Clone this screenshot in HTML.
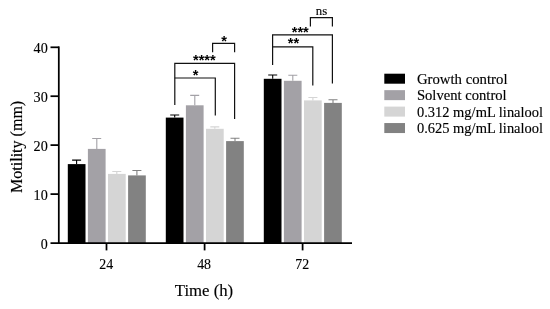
<!DOCTYPE html>
<html lang="en"><head><meta charset="utf-8"><title>Motility</title>
<style>
html,body{margin:0;padding:0;background:#fff;}
body{width:550px;height:309px;overflow:hidden;}
svg{display:block;}
text{font-family:"Liberation Serif","DejaVu Serif",serif;fill:#000;stroke:#000;stroke-width:0.14px;}
.st{font-family:"Liberation Sans","DejaVu Sans",sans-serif;font-weight:bold;stroke:none;}
</style></head><body>
<svg width="550" height="309" viewBox="0 0 550 309">
<rect width="550" height="309" fill="#fff"/>
<rect x="67.8" y="164.1" width="17.7" height="78.9" fill="#000000"/>
<path d="M76.6 164.1V160.1M72.1 160.1H81.1" stroke="#000000" stroke-width="1.1" fill="none"/>
<rect x="87.9" y="148.9" width="17.7" height="94.1" fill="#a3a1a6"/>
<path d="M96.8 148.9V138.5M92.2 138.5H101.2" stroke="#a3a1a6" stroke-width="1.1" fill="none"/>
<rect x="108.0" y="173.9" width="17.7" height="69.1" fill="#d5d5d5"/>
<path d="M116.8 173.9V171.5M112.3 171.5H121.3" stroke="#d5d5d5" stroke-width="1.1" fill="none"/>
<rect x="128.1" y="175.4" width="17.7" height="67.6" fill="#828282"/>
<path d="M136.9 175.4V170.5M132.4 170.5H141.4" stroke="#828282" stroke-width="1.1" fill="none"/>
<rect x="165.8" y="117.6" width="17.7" height="125.4" fill="#000000"/>
<path d="M174.7 117.6V115.0M170.2 115.0H179.2" stroke="#000000" stroke-width="1.1" fill="none"/>
<rect x="185.9" y="105.3" width="17.7" height="137.7" fill="#a3a1a6"/>
<path d="M194.8 105.3V95.4M190.2 95.4H199.2" stroke="#a3a1a6" stroke-width="1.1" fill="none"/>
<rect x="206.0" y="128.8" width="17.7" height="114.2" fill="#d5d5d5"/>
<path d="M214.8 128.8V126.9M210.3 126.9H219.3" stroke="#d5d5d5" stroke-width="1.1" fill="none"/>
<rect x="226.1" y="141.1" width="17.7" height="101.9" fill="#828282"/>
<path d="M235.0 141.1V138.3M230.5 138.3H239.5" stroke="#828282" stroke-width="1.1" fill="none"/>
<rect x="263.8" y="78.8" width="17.7" height="164.2" fill="#000000"/>
<path d="M272.7 78.8V75.0M268.2 75.0H277.2" stroke="#000000" stroke-width="1.1" fill="none"/>
<rect x="283.9" y="80.8" width="17.7" height="162.2" fill="#a3a1a6"/>
<path d="M292.8 80.8V75.2M288.3 75.2H297.3" stroke="#a3a1a6" stroke-width="1.1" fill="none"/>
<rect x="304.0" y="100.4" width="17.7" height="142.6" fill="#d5d5d5"/>
<path d="M312.9 100.4V97.5M308.4 97.5H317.4" stroke="#d5d5d5" stroke-width="1.1" fill="none"/>
<rect x="324.1" y="102.9" width="17.7" height="140.1" fill="#828282"/>
<path d="M333.0 102.9V99.8M328.5 99.8H337.5" stroke="#828282" stroke-width="1.1" fill="none"/>
<g stroke="#000" stroke-width="1.75" fill="none">
<path d="M58.8 46.4V243.87"/>
<path d="M50.5 243.0H352"/>
<path d="M50.5 194.1H58.8"/>
<path d="M50.5 145.1H58.8"/>
<path d="M50.5 96.2H58.8"/>
<path d="M50.5 47.3H58.8"/>
<path d="M106.5 243.0V250.4"/>
<path d="M204.6 243.0V250.4"/>
<path d="M302.6 243.0V250.4"/>
</g>
<text x="47.8" y="248.5" font-size="15.1" text-anchor="end" textLength="7.0" lengthAdjust="spacingAndGlyphs">0</text>
<text x="47.8" y="199.6" font-size="15.1" text-anchor="end" textLength="14.2" lengthAdjust="spacingAndGlyphs">10</text>
<text x="47.8" y="150.6" font-size="15.1" text-anchor="end" textLength="14.2" lengthAdjust="spacingAndGlyphs">20</text>
<text x="47.8" y="101.7" font-size="15.1" text-anchor="end" textLength="14.2" lengthAdjust="spacingAndGlyphs">30</text>
<text x="47.8" y="52.8" font-size="15.1" text-anchor="end" textLength="14.2" lengthAdjust="spacingAndGlyphs">40</text>
<text x="106.3" y="268.6" font-size="15.1" text-anchor="middle" textLength="13.9" lengthAdjust="spacingAndGlyphs">24</text>
<text x="204.1" y="268.6" font-size="15.1" text-anchor="middle" textLength="13.9" lengthAdjust="spacingAndGlyphs">48</text>
<text x="302.3" y="268.6" font-size="15.1" text-anchor="middle" textLength="13.9" lengthAdjust="spacingAndGlyphs">72</text>
<text x="204" y="296.3" font-size="16.2" text-anchor="middle" textLength="58.4" lengthAdjust="spacingAndGlyphs">Time (h)</text>
<text transform="translate(21.5 146.9) rotate(-90)" font-size="16.2" text-anchor="middle" textLength="92.2" lengthAdjust="spacingAndGlyphs">Motility (mm)</text>
<rect x="384.3" y="73.70" width="20.7" height="10" fill="#000000"/>
<text x="416.9" y="83.7" font-size="14.6" textLength="90.6" lengthAdjust="spacingAndGlyphs">Growth control</text>
<rect x="384.3" y="90.15" width="20.7" height="10" fill="#a3a1a6"/>
<text x="416.9" y="100.1" font-size="14.6" textLength="89.8" lengthAdjust="spacingAndGlyphs">Solvent control</text>
<rect x="384.3" y="106.60" width="20.7" height="10" fill="#d5d5d5"/>
<text x="416.9" y="117.0" font-size="14.6" textLength="126.2" lengthAdjust="spacingAndGlyphs">0.312 mg/mL linalool</text>
<rect x="384.3" y="123.05" width="20.7" height="10" fill="#828282"/>
<text x="416.9" y="133.2" font-size="14.6" textLength="126.2" lengthAdjust="spacingAndGlyphs">0.625 mg/mL linalool</text>
<g stroke="#111" stroke-width="1.2" fill="none">
<path d="M212.6 52.3V43.3H234.6V52.3"/>
<path d="M174.8 105V63.4H234.6V119"/>
<path d="M174.8 78H215.3V115.5"/>
<path d="M310.4 26.4V17.6H332.4V26.4"/>
<path d="M272.6 65.1V34.9H332.4V83.4"/>
<path d="M272.6 46.9H312.8V85.5"/>
</g>
<text class="st" x="224" y="45.5" font-size="14.6" text-anchor="middle">*</text>
<text class="st" x="204.35" y="65.4" font-size="14.6" text-anchor="middle">****</text>
<text class="st" x="195.6" y="80.2" font-size="14.6" text-anchor="middle">*</text>
<text class="st" x="300.3" y="36.9" font-size="14.6" text-anchor="middle">***</text>
<text class="st" x="293.4" y="48.0" font-size="14.6" text-anchor="middle">**</text>
<text x="321.5" y="14.8" font-size="13.2" text-anchor="middle" textLength="11.4" lengthAdjust="spacingAndGlyphs">ns</text>
</svg>
</body></html>
